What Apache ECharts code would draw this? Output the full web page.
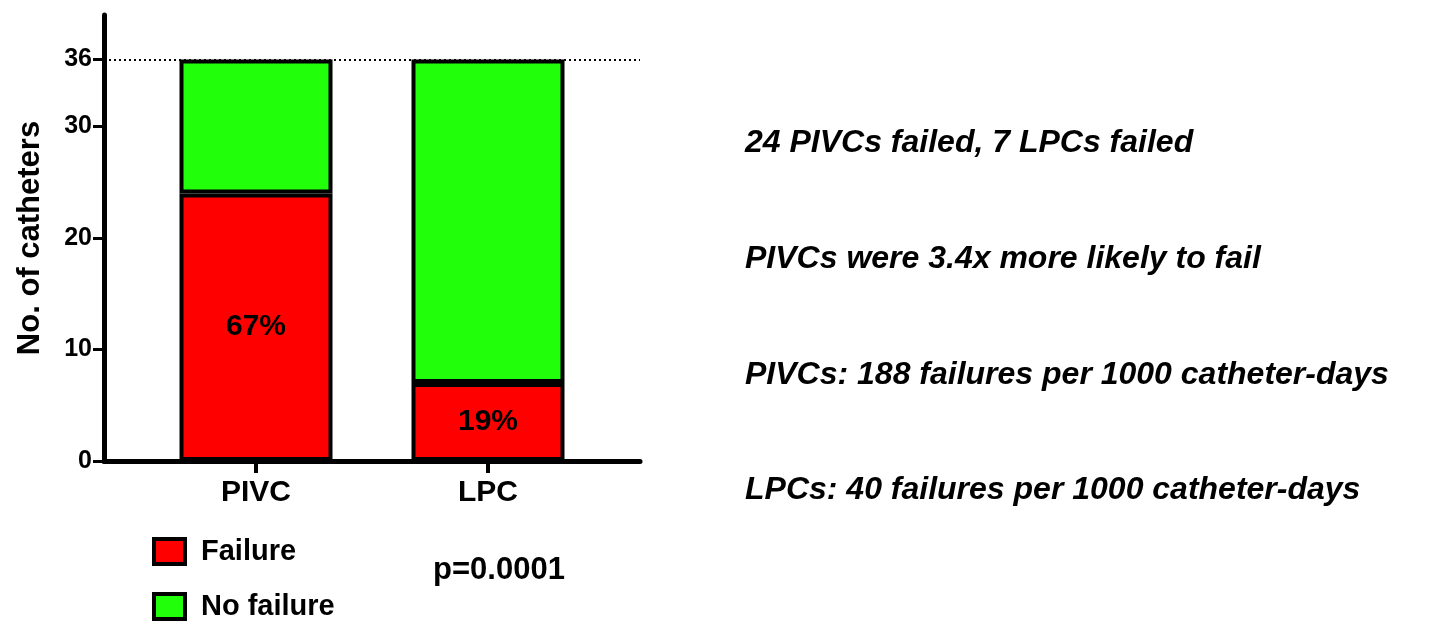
<!DOCTYPE html>
<html>
<head>
<meta charset="utf-8">
<script src="https://cdn.jsdelivr.net/npm/echarts@6/dist/echarts.min.js"></script>
<style>html,body{margin:0;padding:0;background:#fff}#c{width:1455px;height:633px}</style>
</head>
<body>
<div id="c"></div>
<script>
const categories = ['PIVC', 'LPC'];
const failure = [24, 7];
const noFailure = [12, 29];
const pctLabels = ['67%', '19%'];
const yTicks = [0, 10, 20, 30, 36];
const refLine = 36;
const pValue = 'p=0.0001';
const notes = [
  '24 PIVCs failed, 7 LPCs failed',
  'PIVCs were 3.4x more likely to fail',
  'PIVCs: 188 failures per 1000 catheter-days',
  'LPCs: 40 failures per 1000 catheter-days'
];

const FONT = 'Liberation Sans, Arial, sans-serif';
const chart = echarts.init(document.getElementById('c'));
const noteY = [143, 259, 375, 490];
chart.setOption({
  animation: false,
  backgroundColor: '#fff',
  textStyle: { fontFamily: FONT },
  grid: [
    { left: 104, right: 815, top: 15, bottom: 172 },
    { left: 140, right: 851, top: 15, bottom: 172 }
  ],
  legend: {
    data: ['Failure', 'No failure'],
    orient: 'vertical',
    left: 147,
    top: 532,
    itemWidth: 31,
    itemHeight: 25,
    itemGap: 26,
    icon: 'rect',
    itemStyle: { borderColor: '#000', borderWidth: 4 },
    textStyle: { fontSize: 29, fontWeight: 'bold', color: '#000', fontFamily: FONT, padding: [0, 0, 0, 11] }
  },
  xAxis: [
    { type: 'value', gridIndex: 0, min: 0, max: 1,
      axisLine: { show: true, lineStyle: { color: '#000', width: 5 } },
      axisTick: { show: false }, axisLabel: { show: false }, splitLine: { show: false } },
    { type: 'category', gridIndex: 1, data: categories,
      axisLine: { show: false },
      axisTick: { show: true, alignWithLabel: true, length: 12, lineStyle: { color: '#000', width: 4 } },
      axisLabel: { fontSize: 30, fontWeight: 'bold', color: '#000', margin: 17, fontFamily: FONT } }
  ],
  yAxis: [
    { type: 'value', gridIndex: 0, min: 0, max: 40,
      name: 'No. of catheters', nameLocation: 'middle', nameGap: 58,
      nameTextStyle: { fontSize: 31, fontWeight: 'bold', color: '#000', fontFamily: FONT },
      axisLine: { show: true, lineStyle: { color: '#000', width: 5 } },
      axisTick: { show: true, customValues: yTicks, length: 11, lineStyle: { color: '#000', width: 3 } },
      axisLabel: { customValues: yTicks, fontSize: 25, fontWeight: 'bold', color: '#000', margin: 12, fontFamily: FONT },
      splitLine: { show: false } },
    { type: 'value', gridIndex: 1, min: 0, max: 40, show: false }
  ],
  series: [
    { type: 'line', xAxisIndex: 0, yAxisIndex: 0, data: [], silent: true,
      markLine: { symbol: 'none', silent: true, label: { show: false },
        lineStyle: { color: '#000', type: [2, 3], width: 1.8 },
        data: [{ yAxis: refLine }] } },
    { name: 'Failure', type: 'bar', xAxisIndex: 1, yAxisIndex: 1, stack: 's', data: failure,
      barWidth: 153,
      itemStyle: { color: '#ff0000', borderColor: '#000', borderWidth: 4 },
      label: { show: true, position: 'inside', fontSize: 30, fontWeight: 'bold', color: '#000',
        fontFamily: FONT, formatter: p => pctLabels[p.dataIndex] } },
    { name: 'No failure', type: 'bar', xAxisIndex: 1, yAxisIndex: 1, stack: 's', data: noFailure,
      barWidth: 153,
      itemStyle: { color: '#22ff0a', borderColor: '#000', borderWidth: 4 } }
  ],
  graphic: [
    { type: 'text', x: 499, y: 570,
      style: { text: pValue, align: 'center', verticalAlign: 'middle',
        font: 'bold 31px ' + FONT, fill: '#000' } }
  ].concat(notes.map((t, i) => ({
    type: 'text', x: 745, y: noteY[i],
    style: { text: t, align: 'left', verticalAlign: 'middle',
      font: 'italic bold 32px "Liberation Sans", sans-serif', fill: '#000' }
  })))
});
</script>
</body>
</html>
